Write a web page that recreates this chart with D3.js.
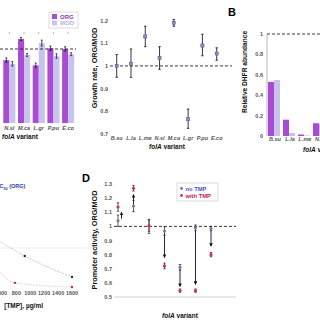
<!DOCTYPE html>
<html>
<head>
<meta charset="utf-8">
<script src="https://cdn.jsdelivr.net/npm/d3@7"></script>
<style>
  body { margin: 0; background: #fff; }
  svg { font-family: "Liberation Sans", Arial, sans-serif; display: block; }
  .tick-lbl { font-size: 5.5px; font-weight: bold; fill: #555; }
  .ax-title { font-size: 7.3px; font-weight: bold; fill: #111; }
</style>
</head>
<body>
<svg id="fig" width="320" height="320"></svg>
<script>
// ---- data ----
// panel A (left, bars)
const barCats = ['N.sl', 'M.ca', 'L.gr', 'P.pu', 'E.co'];
const barOrg = [0.85, 1.135, 0.78, 1.01, 1.0];
const barMod = [0.80, 0.92, 1.08, 0.905, 0.93];
const barOrgErr = [0.03, 0.02, 0.03, 0.03, 0.03];
const barModErr = [0.03, 0.02, 0.04, 0.03, 0.02];

// panel A (right, growth ratio)
const growthCats = ['B.su', 'L.la', 'L.me', 'N.sl', 'M.ca', 'L.gr', 'P.pu', 'E.co'];
const growth = [1.0, 1.01, 1.13, 1.035, 1.19, 0.765, 1.09, 1.055];
const growthLo = [0.95, 0.95, 1.085, 0.985, 1.175, 0.725, 1.045, 1.025];
const growthHi = [1.05, 1.075, 1.175, 1.085, 1.205, 0.81, 1.14, 1.08];
const growthTicks = [0.7, 0.8, 0.9, 1, 1.1, 1.2];

// panel B
const dhfrCats = ['B.su', 'L.la', 'L.me', 'N.sl'];
const dhfrOrg = [0.53, 0.16, 0.015, 0.125];
const dhfrMod = [0.55, 0.03, 0.005, 0.12];
const dhfrTicks = [0, 0.2, 0.4, 0.6, 0.8, 1];

// panel C (partial)
const tmpTicks = [600, 800, 1000, 1200, 1400, 1600];
const cOrgX = [540, 920, 1600];
const cOrgY = [1.18, 0.81, 0.31];
const cModX = [540, 780, 1600];
const cModY = [0.45, 0.17, 0.07];

// panel D
const promCats = ['B.su', 'L.la', 'L.me', 'N.sl', 'M.ca', 'L.gr', 'P.pu'];
const noTmp = [1.04, 1.144, 1.0, 0.967, 0.71, 0.99, 0.985];
const noTmpErr = [0.04, 0.04, 0.05, 0.03, 0.02, 0.02, 0.015];
const withTmp = [1.137, 1.27, 1.005, 0.72, 0.545, 0.545, 0.80];
const withTmpErr = [0.03, 0.02, 0.04, 0.02, 0.012, 0.012, 0.015];
const arrowTo = [1.1, 1.225, null, 0.78, 0.575, 0.59, 0.86];
const promTicks = [0.5, 0.6, 0.7, 0.8, 0.9, 1, 1.1, 1.2, 1.3];

const ORG = '#a94bd3', MOD = '#c8c2ee';
const BLUE = '#6a72b8', RED = '#cc2f68';

const svg = d3.select('#fig');
svg.append('defs').append('marker')
    .attr('id', 'arrow').attr('viewBox', '0 0 6 6')
    .attr('refX', 5).attr('refY', 3)
    .attr('markerWidth', 4).attr('markerHeight', 4)
    .attr('orient', 'auto')
  .append('path').attr('d', 'M0,0L6,3L0,6Z').attr('fill', '#111');

const fmt = d => (d === 0 || d === 1) ? String(d) : d3.format('.1f')(d);

function italicLabel(g, x, y, anchor){
  const t = g.append('text').attr('x', x).attr('y', y)
    .attr('text-anchor', anchor || 'middle').attr('class', 'ax-title')
    .style('font-size', '6.5px');
  t.append('tspan').style('font-style', 'italic').text('folA');
  t.append('tspan').text(' variant');
}

// ---------- panel A, bars ----------
(function(){
  const g = svg.append('g');
  const x0 = d3.scaleBand().domain(barCats).range([2, 75.5]).paddingInner(0.18).paddingOuter(0.09);
  const x1 = d3.scaleBand().domain(['ORG', 'MOD']).range([0, x0.bandwidth()]);
  const y = d3.scaleLinear().domain([0, 1]).range([123, 49]);

  const rows = barCats.map((c, i) => ({c, vals: [
    {k: 'ORG', v: barOrg[i], e: barOrgErr[i]},
    {k: 'MOD', v: barMod[i], e: barModErr[i]}]}));

  const grp = g.selectAll('g.pair').data(rows).enter().append('g')
    .attr('class', 'pair')
    .attr('transform', d => `translate(${x0(d.c)},0)`);
  grp.selectAll('rect.bar').data(d => d.vals).enter().append('rect')
    .attr('class', 'bar')
    .attr('x', d => x1(d.k)).attr('width', x1.bandwidth())
    .attr('y', d => y(d.v)).attr('height', d => y(0) - y(d.v))
    .attr('fill', d => d.k === 'ORG' ? ORG : MOD);
  grp.selectAll('path.err').data(d => d.vals).enter().append('path')
    .attr('class', 'err')
    .attr('d', d => {
      const cx = x1(d.k) + x1.bandwidth() / 2;
      return `M${cx},${y(d.v + d.e)}V${y(d.v - d.e)}M${cx - 1},${y(d.v + d.e)}H${cx + 1}M${cx - 1},${y(d.v - d.e)}H${cx + 1}`;
    }).attr('stroke', '#222').attr('stroke-width', 0.8).attr('fill', 'none');
  grp.append('rect').attr('x', x0.bandwidth() / 2 - 0.6).attr('y', 32.5)
    .attr('width', 1.2).attr('height', 1).attr('fill', '#888');

  g.append('line').attr('x1', 0).attr('x2', 76).attr('y1', y(1)).attr('y2', y(1))
    .attr('stroke', '#222').attr('stroke-dasharray', '3,2').attr('stroke-width', 0.9);

  g.selectAll('text.cat').data(barCats).enter().append('text')
    .attr('x', d => x0(d) + x0.bandwidth() / 2).attr('y', 129.5)
    .attr('text-anchor', 'middle').attr('class', 'tick-lbl')
    .style('font-style', 'italic').text(d => d);
  italicLabel(g, 20, 139);

  // legend
  g.append('rect').attr('x', 49).attr('y', 12).attr('width', 29).attr('height', 16)
    .attr('fill', '#fff').attr('stroke', '#ccc').attr('stroke-width', 0.7);
  [['ORG', ORG, '#8a3bb0'], ['MOD', MOD, '#b8b2e0']].forEach((d, i) => {
    g.append('rect').attr('x', 52).attr('y', 14 + i * 6.5).attr('width', 5).attr('height', 5).attr('fill', d[1]);
    g.append('text').attr('x', 60).attr('y', 18.5 + i * 6.5).text(d[0])
      .style('font-size', '6px').style('font-weight', 'bold').attr('fill', d[2]);
  });
})();

// ---------- panel A, growth ratio ----------
(function(){
  const g = svg.append('g');
  const x = d3.scalePoint().domain(growthCats).range([116.7, 216.7]);
  const y = d3.scaleLinear().domain([0.7, 1.2]).range([134, 20.6]);

  g.selectAll('text.tk').data(growthTicks).enter().append('text')
    .attr('x', 108).attr('y', d => y(d) + 2).attr('text-anchor', 'end')
    .attr('class', 'tick-lbl').text(fmt);
  g.append('line').attr('x1', 110).attr('x2', 232).attr('y1', y(1)).attr('y2', y(1))
    .attr('stroke', '#222').attr('stroke-dasharray', '3,2').attr('stroke-width', 0.9);

  const pts = growthCats.map((c, i) => ({c, v: growth[i], lo: growthLo[i], hi: growthHi[i]}));
  g.selectAll('path.err').data(pts).enter().append('path')
    .attr('d', d => `M${x(d.c)},${y(d.hi)}V${y(d.lo)}M${x(d.c) - 1.2},${y(d.hi)}H${x(d.c) + 1.2}M${x(d.c) - 1.2},${y(d.lo)}H${x(d.c) + 1.2}`)
    .attr('stroke', '#222').attr('stroke-width', 0.9).attr('fill', 'none');
  g.selectAll('rect.pt').data(pts).enter().append('rect')
    .attr('x', d => x(d.c) - 1.6).attr('y', d => y(d.v) - 1.6)
    .attr('width', 3.2).attr('height', 3.2).attr('fill', '#8490c4').attr('stroke', '#3a4580').attr('stroke-width', 0.4);

  g.selectAll('text.cat').data(growthCats).enter().append('text')
    .attr('x', d => x(d)).attr('y', 139.5).attr('text-anchor', 'middle')
    .attr('class', 'tick-lbl').style('font-style', 'italic').text(d => d);
  italicLabel(g, 167, 149);
  g.append('text').attr('class', 'ax-title').attr('text-anchor', 'middle')
    .attr('transform', 'translate(97,68) rotate(-90)').text('Growth rate, ORG/MOD');
})();

// ---------- panel B ----------
(function(){
  const g = svg.append('g');
  const x0 = d3.scaleBand().domain(dhfrCats).range([266.5, 326.5]).paddingInner(0.2).paddingOuter(0.1);
  const x1 = d3.scaleBand().domain(['ORG', 'MOD']).range([0, x0.bandwidth()]);
  const y = d3.scaleLinear().domain([0, 1]).range([136, 34]);

  g.selectAll('text.tk').data(dhfrTicks).enter().append('text')
    .attr('x', 263).attr('y', d => y(d) + 2).attr('text-anchor', 'end')
    .attr('class', 'tick-lbl').text(fmt);

  const rows = dhfrCats.map((c, i) => ({c, vals: [{k: 'ORG', v: dhfrOrg[i]}, {k: 'MOD', v: dhfrMod[i]}]}));
  g.selectAll('g.pair').data(rows).enter().append('g')
    .attr('class', 'pair')
    .attr('transform', d => `translate(${x0(d.c)},0)`)
    .selectAll('rect').data(d => d.vals).enter().append('rect')
    .attr('x', d => x1(d.k)).attr('width', x1.bandwidth())
    .attr('y', d => y(d.v)).attr('height', d => y(0) - y(d.v))
    .attr('fill', d => d.k === 'ORG' ? ORG : MOD);

  g.append('line').attr('x1', 267).attr('x2', 267).attr('y1', y(1)).attr('y2', y(0))
    .attr('stroke', '#999').attr('stroke-width', 0.7);
  g.append('line').attr('x1', 267).attr('x2', 322).attr('y1', y(1)).attr('y2', y(1))
    .attr('stroke', '#222').attr('stroke-dasharray', '3,2').attr('stroke-width', 0.9);

  g.selectAll('text.cat').data(dhfrCats).enter().append('text')
    .attr('x', d => x0(d) + x0.bandwidth() / 2 + 1).attr('y', 140.5).attr('text-anchor', 'middle')
    .attr('class', 'tick-lbl').style('font-style', 'italic').text(d => d);
  italicLabel(g, 303, 152, 'start');
  g.append('text').attr('class', 'ax-title').attr('text-anchor', 'middle')
    .style('font-size', '6.6px')
    .attr('transform', 'translate(247,72) rotate(-90)').text('Relative DHFR abundance');
  g.append('text').attr('x', 228).attr('y', 16).text('B')
    .style('font-size', '11px').style('font-weight', 'bold');
})();

// ---------- panel C (cut off) ----------
(function(){
  const g = svg.append('g');
  const x = d3.scaleLinear().domain([600, 1600]).range([2.5, 72]);
  const y = d3.scaleLinear().domain([0, 1]).range([290, 248]);

  g.append('line').attr('x1', 0).attr('x2', 100).attr('y1', y(1)).attr('y2', y(1))
    .attr('stroke', '#e6e6e6').attr('stroke-width', 0.8);

  const line = d3.line().x(d => x(d[0])).y(d => y(d[1])).curve(d3.curveMonotoneX);
  const orgPts = cOrgX.map((v, i) => [v, cOrgY[i]]);
  const modPts = cModX.map((v, i) => [v, cModY[i]]);
  g.append('path').attr('d', line(orgPts))
    .attr('fill', 'none').attr('stroke', '#b7bfdc').attr('stroke-width', 0.8).attr('stroke-dasharray', '2,1');
  g.append('path').attr('d', line(modPts))
    .attr('fill', 'none').attr('stroke', '#e2b3c6').attr('stroke-width', 0.8).attr('stroke-dasharray', '1.5,1.5');

  g.selectAll('circle.o').data(orgPts.slice(1)).enter().append('circle')
    .attr('cx', d => x(d[0])).attr('cy', d => y(d[1])).attr('r', 1.2).attr('fill', '#1d2560');
  g.selectAll('circle.m').data(modPts.slice(1)).enter().append('circle')
    .attr('cx', d => x(d[0])).attr('cy', d => y(d[1])).attr('r', 1.2).attr('fill', '#b03060');

  g.selectAll('text.tk').data(tmpTicks).enter().append('text')
    .attr('x', d => x(d)).attr('y', 295).attr('text-anchor', 'middle')
    .attr('class', 'tick-lbl').text(d => d);
  g.append('text').attr('x', 43).attr('y', 308).attr('text-anchor', 'end')
    .attr('class', 'ax-title').style('font-size', '6.5px').text('[TMP], µg/ml');

  const t = g.append('text').attr('x', -2).attr('y', 188)
    .style('font-size', '5.5px').style('font-weight', 'bold').attr('fill', '#2f3c9c');
  t.append('tspan').text('IC');
  t.append('tspan').attr('dy', 1.5).style('font-size', '3.8px').text('50');
  t.append('tspan').attr('dy', -1.5).text(' (ORG)');
})();

// ---------- panel D ----------
(function(){
  const g = svg.append('g');
  const x = d3.scalePoint().domain(promCats).range([118, 211]);
  const y = d3.scaleLinear().domain([0.5, 1.3]).range([297, 184]);

  g.selectAll('text.tk').data(promTicks).enter().append('text')
    .attr('x', 112).attr('y', d => y(d) + 2).attr('text-anchor', 'end')
    .attr('class', 'tick-lbl').text(fmt);
  g.append('line').attr('x1', 114).attr('x2', 236).attr('y1', y(0.5)).attr('y2', y(0.5))
    .attr('stroke', '#ccc').attr('stroke-width', 0.9);
  g.append('line').attr('x1', 114).attr('x2', 236).attr('y1', y(1)).attr('y2', y(1))
    .attr('stroke', '#222').attr('stroke-dasharray', '3,2').attr('stroke-width', 0.9);

  const rows = promCats.map((c, i) => ({c, i, a: noTmp[i], ae: noTmpErr[i], b: withTmp[i], be: withTmpErr[i], to: arrowTo[i]}));

  // arrows
  g.selectAll('line.arr').data(rows.filter(d => d.to !== null)).enter().append('line')
    .attr('x1', d => x(d.c) + (d.i === 0 ? 3.5 : 0)).attr('x2', d => x(d.c) + (d.i === 0 ? 3.5 : 0))
    .attr('y1', d => y(d.a) + (d.to > d.a ? -2 : 2)).attr('y2', d => y(d.to))
    .attr('stroke', '#111').attr('stroke-width', 0.9).attr('marker-end', 'url(#arrow)');

  const errPath = (cx, v, e) => `M${cx},${y(v + e)}V${y(v - e)}M${cx - 1.2},${y(v + e)}H${cx + 1.2}M${cx - 1.2},${y(v - e)}H${cx + 1.2}`;
  g.selectAll('path.ea').data(rows).enter().append('path')
    .attr('d', d => errPath(x(d.c), d.a, d.ae)).attr('stroke', '#333').attr('stroke-width', 0.8).attr('fill', 'none');
  g.selectAll('path.eb').data(rows).enter().append('path')
    .attr('d', d => errPath(x(d.c), d.b, d.be)).attr('stroke', '#333').attr('stroke-width', 0.8).attr('fill', 'none');
  g.selectAll('circle.a').data(rows).enter().append('circle')
    .attr('cx', d => x(d.c)).attr('cy', d => y(d.a)).attr('r', 1.5).attr('fill', BLUE);
  g.selectAll('circle.b').data(rows).enter().append('circle')
    .attr('cx', d => x(d.c)).attr('cy', d => y(d.b)).attr('r', 1.6).attr('fill', RED);

  // legend
  g.append('rect').attr('x', 177).attr('y', 183).attr('width', 41).attr('height', 18)
    .attr('fill', '#fff').attr('stroke', '#ccc').attr('stroke-width', 0.7);
  [['no TMP', BLUE, '#4b4fc0'], ['with TMP', RED, '#c0205c']].forEach((d, i) => {
    g.append('circle').attr('cx', 181.5).attr('cy', 188.5 + i * 7).attr('r', 1.4).attr('fill', d[1]);
    g.append('text').attr('x', 185.5).attr('y', 190.5 + i * 7).text(d[0])
      .style('font-size', '5.8px').style('font-weight', 'bold').attr('fill', d[2]);
  });

  italicLabel(g, 180, 318);
  g.append('text').attr('class', 'ax-title').attr('text-anchor', 'middle')
    .attr('transform', 'translate(97,240) rotate(-90)').text('Promoter activity, ORG/MOD');
  g.append('text').attr('x', 82).attr('y', 182).text('D')
    .style('font-size', '11px').style('font-weight', 'bold');
})();
</script>
</body>
</html>
